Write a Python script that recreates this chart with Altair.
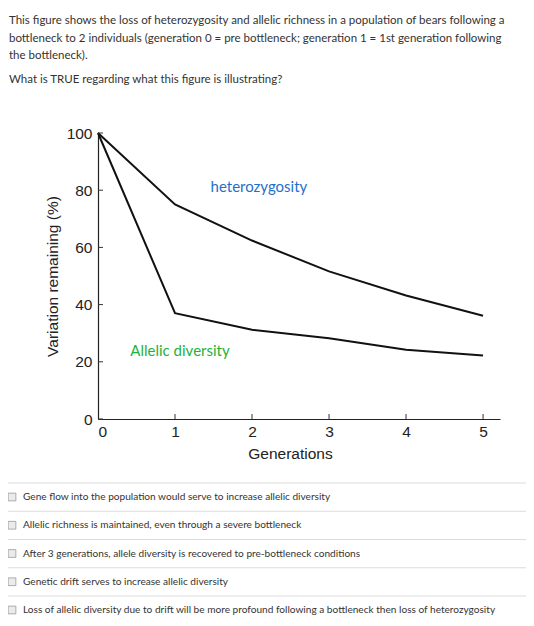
import altair as alt
import pandas as pd

# values
generations = [0, 1, 2, 3, 4, 5]
heterozygosity = [100, 75, 62.4, 51.6, 43.2, 36.1]
allelic_diversity = [100, 37, 31.2, 28.2, 24.2, 22.2]

x_ticks = [0, 1, 2, 3, 4, 5]
y_ticks = [0, 20, 40, 60, 80, 100]

question = [
    "This figure shows the loss of heterozygosity and allelic richness in a population of bears following a",
    "bottleneck to 2 individuals (generation 0 = pre bottleneck; generation 1 = 1st generation following",
    "the bottleneck).",
]
prompt = "What is TRUE regarding what this figure is illustrating?"

options = [
    "Gene flow into the population would serve to increase allelic diversity",
    "Allelic richness is maintained, even through a severe bottleneck",
    "After 3 generations, allele diversity is recovered to pre-bottleneck conditions",
    "Genetic drift serves to increase allelic diversity",
    "Loss of allelic diversity due to drift will be more profound following a bottleneck then loss of heterozygosity",
]

W, H = 402, 286

lines_df = pd.DataFrame({
    'gen': generations * 2,
    'value': heterozygosity + allelic_diversity,
    'series': ['heterozygosity'] * 6 + ['allelic'] * 6,
})

xscale = alt.Scale(domain=[0, 5.22], nice=False, zero=False)
yscale = alt.Scale(domain=[0, 100], nice=False)

lines = alt.Chart(lines_df).mark_line(color='#111', strokeWidth=2).encode(
    alt.X('gen:Q', scale=xscale,
          axis=alt.Axis(values=x_ticks, format='d', ticks=False, tickSize=0,
                        grid=False, labelPadding=5, title='Generations',
                        titleX=192, titlePadding=7)),
    alt.Y('value:Q', scale=yscale,
          axis=alt.Axis(values=y_ticks, ticks=False, tickSize=0, grid=False,
                        labelPadding=6, title='Variation remaining (%)',
                        titlePadding=6)),
    detail='series:N',
)

# inward pointing ticks
xt = alt.Chart(pd.DataFrame({'t': x_ticks[1:]})).mark_rule(
    color='#333', strokeWidth=1).encode(
    x=alt.X('t:Q', scale=xscale),
    y=alt.value(H), y2=alt.value(H - 5),
)
yt = alt.Chart(pd.DataFrame({'t': y_ticks})).mark_rule(
    color='#333', strokeWidth=1).encode(
    y=alt.Y('t:Q', scale=yscale),
    x=alt.value(0), x2=alt.value(5),
)

het_label = alt.Chart().mark_text(
    text='heterozygosity', font='Lato', fontSize=15, color='#1f6fc9',
    align='center', baseline='middle').encode(
    x=alt.datum(2.09, scale=xscale), y=alt.datum(81, scale=yscale))
all_label = alt.Chart().mark_text(
    text='Allelic diversity', font='Lato', fontSize=15, color='#1db33a',
    align='left', baseline='middle').encode(
    x=alt.datum(0.42, scale=xscale), y=alt.datum(23.8, scale=yscale))

plot = alt.layer(lines, xt, yt, het_label, all_label)

# answer options below the figure
opt_df = pd.DataFrame({'option': options})
opt_y = alt.Y('option:N', sort=None, axis=None,
              scale=alt.Scale(type='point', domain=options, range=[364, 477],
                              padding=0))

opt_text = alt.Chart(opt_df).mark_text(
    align='left', baseline='middle', font='Lato', fontSize=10.1,
    color='#333').encode(x=alt.value(-75), y=opt_y, text='option:N')
opt_box = alt.Chart(opt_df).mark_square(
    size=60, fill='#ebebeb', stroke='#9a9a9a', strokeWidth=0.8,
    opacity=1).encode(x=alt.value(-86), y=opt_y)
opt_rule = alt.Chart(opt_df).mark_rule(
    yOffset=-14, color='#dcdcdc', strokeWidth=1).encode(
    x=alt.value(-96), x2=alt.value(430), y=opt_y)

answers = alt.layer(opt_rule, opt_box, opt_text)

chart = alt.layer(plot, answers).resolve_scale(y='independent').properties(
    width=W, height=H,
    autosize=alt.AutoSizeParams(type='none'),
    padding={'left': 90, 'top': 125, 'right': 26, 'bottom': 199},
    title=alt.TitleParams(
        text=question, subtitle=prompt, anchor='start', frame='group',
        dx=-89, offset=41, font='Lato', fontSize=11.5, fontWeight='normal',
        color='#333', lineHeight=17.5, subtitleFont='Lato',
        subtitleFontSize=11.5, subtitleColor='#333', subtitlePadding=12,
        subtitleLineHeight=17.5),
).configure_view(stroke=None).configure_axis(
    domainColor='#222', domainWidth=1.2, labelFont='Liberation Sans',
    labelFontSize=15.5, labelColor='#222', titleFont='Liberation Sans',
    titleFontSize=15.5, titleFontWeight='normal', titleColor='#222',
)

chart.save("out.html", embed_options={"renderer": "svg", "actions": False})
